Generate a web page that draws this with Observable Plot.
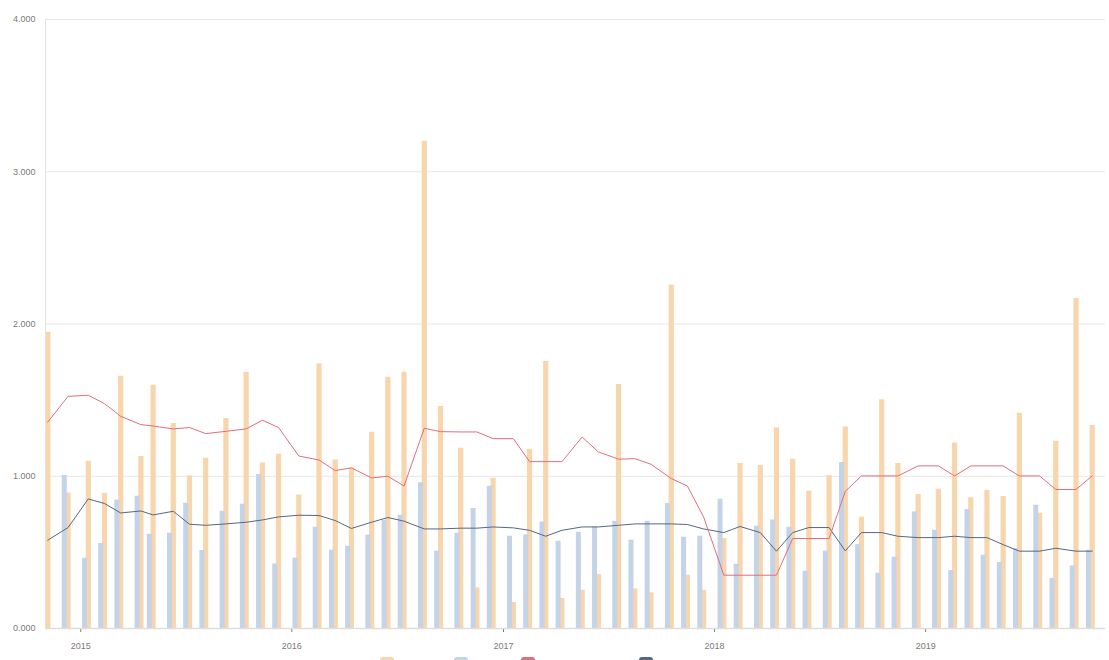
<!DOCTYPE html>
<html>
<head>
<meta charset="utf-8">
<script src="https://cdn.jsdelivr.net/npm/d3@7"></script>
<script src="https://cdn.jsdelivr.net/npm/@observablehq/plot@0.6"></script>
<style>
  html, body { margin: 0; padding: 0; background: #fff; overflow: hidden; }
  body { width: 1109px; height: 660px; position: relative; font-family: "Liberation Sans", Arial, sans-serif; }
  #chart { position: absolute; left: 0; top: 0; }
  .sw { position: absolute; top: 657px; width: 14px; height: 14px; border-radius: 3px; }
</style>
</head>
<body>
<div id="chart"></div>
<div class="sw" style="left:380px;background:#f7d5ad"></div>
<div class="sw" style="left:454px;background:#c5d3e7"></div>
<div class="sw" style="left:521px;background:#e26d7d"></div>
<div class="sw" style="left:639px;background:#566783"></div>
<script>
const dates = ["2014-11-05","2014-12-10","2015-01-14","2015-02-11","2015-03-11","2015-04-15","2015-05-06","2015-06-10","2015-07-08","2015-08-05","2015-09-09","2015-10-14","2015-11-11","2015-12-09","2016-01-13","2016-02-17","2016-03-16","2016-04-13","2016-05-18","2016-06-15","2016-07-13","2016-08-17","2016-09-14","2016-10-19","2016-11-16","2016-12-14","2017-01-18","2017-02-15","2017-03-15","2017-04-12","2017-05-17","2017-06-14","2017-07-19","2017-08-16","2017-09-13","2017-10-18","2017-11-15","2017-12-13","2018-01-17","2018-02-14","2018-03-21","2018-04-18","2018-05-16","2018-06-13","2018-07-18","2018-08-15","2018-09-12","2018-10-17","2018-11-14","2018-12-19","2019-01-23","2019-02-20","2019-03-20","2019-04-17","2019-05-15","2019-06-12","2019-07-17","2019-08-14","2019-09-18","2019-10-16"];

const orangeValues = [1.946,0.890,1.098,0.886,1.657,1.129,1.598,1.346,1.002,1.118,1.379,1.683,1.087,1.144,0.877,
  1.737,1.107,1.055,1.289,1.650,1.683,3.200,1.458,1.184,0.267,0.987,0.171,1.177,1.753,0.197,
  0.251,0.354,1.602,0.260,0.234,2.255,0.350,0.251,0.591,1.083,1.070,1.317,1.112,0.901,1.004,
  1.324,0.731,1.503,1.083,0.880,0.915,1.219,0.858,0.906,0.867,1.414,0.757,1.230,2.167,1.333];

const blueValues = [null,1.005,0.462,0.558,0.844,0.869,0.619,0.626,0.823,0.512,0.770,0.816,1.011,0.424,0.462,
  0.665,0.514,0.540,0.613,0.711,0.744,0.958,0.508,0.626,0.788,0.934,0.606,0.615,0.700,0.573,
  0.632,0.667,0.704,0.580,0.704,0.821,0.600,0.606,0.849,0.422,0.672,0.713,0.665,0.376,0.508,
  1.090,0.551,0.363,0.468,0.766,0.645,0.381,0.781,0.481,0.433,0.525,0.810,0.328,0.411,0.514];

const redLine = [1.356,1.525,1.532,1.477,1.394,1.339,1.330,1.311,1.320,1.280,1.295,1.311,1.368,1.320,1.133,
  1.107,1.037,1.055,0.989,1.000,0.936,1.315,1.293,1.291,1.291,1.247,1.247,1.096,1.096,1.096,
  1.258,1.160,1.112,1.116,1.079,0.985,0.936,0.733,0.350,0.350,0.350,0.350,0.591,0.591,0.591,
  0.901,1.002,1.002,1.002,1.068,1.068,1.002,1.068,1.068,1.068,1.002,1.002,0.913,0.913,1.002];

const darkLine = [0.580,0.663,0.851,0.821,0.759,0.772,0.746,0.770,0.685,0.678,0.687,0.698,0.713,0.733,0.744,
  0.742,0.709,0.657,0.698,0.729,0.705,0.654,0.654,0.659,0.659,0.667,0.661,0.645,0.606,0.645,
  0.667,0.667,0.678,0.687,0.687,0.687,0.683,0.654,0.630,0.670,0.630,0.508,0.630,0.663,0.663,
  0.510,0.630,0.630,0.606,0.597,0.597,0.606,0.597,0.597,0.551,0.508,0.508,0.527,0.508,0.508];

const yTickValues = [0, 1, 2, 3, 4];
const yearTickLabels = ["2015", "2016", "2017", "2018", "2019"];
const xDomain = ["2014-11-01", "2019-11-08"];

const parse = d3.utcParse("%Y-%m-%d");
const rows = dates.map((d, i) => ({
  date: parse(d),
  orange: orangeValues[i],
  blue: blueValues[i],
  red: redLine[i],
  dark: darkLine[i]
}));
const yearTicks = yearTickLabels.map(y => parse(y + "-01-01"));

const chart = Plot.plot({
  width: 1109,
  height: 660,
  marginLeft: 45,
  marginRight: 4,
  marginTop: 19,
  marginBottom: 32,
  style: {
    fontFamily: '"Liberation Sans", Arial, sans-serif',
    fontSize: "9px",
    color: "#7a7a7a",
    background: "#fff",
    overflow: "visible"
  },
  x: {
    type: "utc",
    domain: xDomain.map(parse),
    ticks: yearTicks,
    tickFormat: d3.utcFormat("%Y"),
    tickSize: 4,
    tickPadding: 10,
    label: null
  },
  y: {
    domain: [0, 4],
    ticks: yTickValues,
    tickFormat: d => d.toFixed(3),
    tickSize: 0,
    tickPadding: 10,
    label: null
  },
  marks: [
    Plot.ruleY(yTickValues.slice(1), {stroke: "#e6e6e6", strokeWidth: 1}),
    Plot.ruleX(rows, {x: "date", y1: 0, y2: "orange", stroke: "#f7d5ad", strokeWidth: 5.2, clip: true}),
    Plot.ruleX(rows.filter(r => r.blue != null), {x: "date", y1: 0, y2: "blue", stroke: "#c5d3e7", strokeWidth: 5, dx: -3.8, clip: true}),
    Plot.ruleX([parse(xDomain[0])], {stroke: "#e3e3e3", strokeWidth: 1}),
    Plot.ruleY([0], {stroke: "#dedede", strokeWidth: 1.5}),
    Plot.line(rows, {x: "date", y: "dark", stroke: "#566783", strokeWidth: 1}),
    Plot.line(rows, {x: "date", y: "red", stroke: "#e26d7d", strokeWidth: 1})
  ]
});
document.getElementById("chart").appendChild(chart);
</script>
</body>
</html>
